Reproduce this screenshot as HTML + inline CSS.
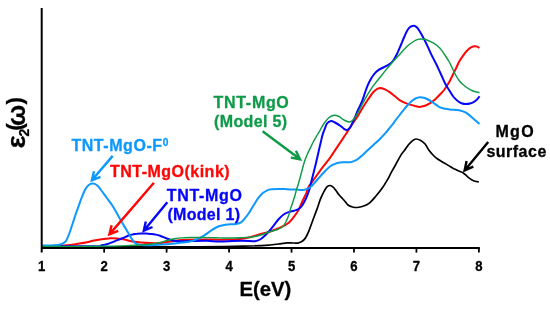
<!DOCTYPE html>
<html lang="en"><head><meta charset="utf-8"><title>Imaginary dielectric function</title>
<style>html,body{margin:0;padding:0;background:#fff}body{width:550px;height:309px;overflow:hidden}svg{display:block;filter:blur(0.3px)}text{font-family:"Liberation Sans",Arial,Helvetica,sans-serif;font-weight:bold;stroke-width:0.3;stroke-linejoin:round;paint-order:stroke}</style></head><body>
<svg width="550" height="309" viewBox="0 0 550 309">
<rect width="550" height="309" fill="#fff"/>
<path d="M41.5 246.8C67.9 246.8 165.2 246.9 200.0 246.8C234.8 246.7 238.3 246.3 250.0 246.0C261.7 245.7 265.0 245.4 270.0 245.0C275.0 244.6 277.2 244.2 280.0 243.8C282.8 243.5 284.8 243.0 287.0 242.9C289.2 242.8 291.1 243.0 293.0 243.0C294.9 243.0 297.0 243.2 298.7 242.8C300.4 242.4 301.7 241.7 302.9 240.8C304.1 239.9 304.9 239.0 305.9 237.3C306.9 235.6 307.7 233.7 308.9 230.8C310.1 227.9 311.6 223.6 312.9 220.0C314.2 216.4 315.6 213.0 316.9 209.4C318.2 205.8 319.5 201.3 320.8 198.2C322.1 195.1 323.4 192.5 324.5 190.6C325.6 188.7 326.3 187.4 327.2 186.6C328.1 185.8 329.1 185.4 330.1 185.5C331.1 185.6 332.1 186.2 333.1 187.1C334.1 187.9 335.0 189.3 336.0 190.6C337.0 191.9 337.9 193.5 339.2 195.0C340.5 196.5 342.1 198.0 343.6 199.7C345.1 201.4 346.5 203.8 348.0 205.0C349.5 206.2 350.9 206.6 352.5 207.0C354.1 207.4 355.6 207.6 357.3 207.5C359.1 207.4 360.9 207.1 363.0 206.3C365.1 205.5 367.5 204.5 369.7 202.8C371.9 201.1 373.8 198.6 376.0 196.0C378.2 193.4 380.9 190.1 382.8 187.3C384.7 184.6 386.2 181.8 387.6 179.5C389.0 177.2 389.6 175.5 390.9 173.2C392.2 170.9 393.5 168.5 395.2 165.5C396.9 162.5 399.3 157.7 400.9 155.1C402.5 152.5 403.6 151.7 404.8 150.0C406.0 148.3 406.9 146.7 408.1 145.2C409.4 143.7 411.0 141.8 412.3 140.8C413.6 139.8 414.7 139.1 416.1 139.0C417.5 138.9 419.2 139.7 420.7 140.5C422.2 141.3 423.7 142.4 425.1 144.0C426.4 145.6 427.5 148.2 428.8 150.0C430.1 151.8 431.5 153.4 433.0 155.0C434.5 156.6 436.0 157.9 438.0 159.3C440.0 160.7 442.9 162.2 445.0 163.4C447.1 164.7 449.0 165.9 450.5 166.8C452.0 167.7 452.8 168.1 454.1 168.8C455.5 169.5 457.1 170.3 458.6 171.0C460.1 171.7 462.0 172.2 463.2 172.9C464.4 173.6 465.1 174.4 466.0 175.2C466.9 176.0 467.6 176.9 468.6 177.7C469.6 178.5 470.9 179.4 472.0 180.0C473.1 180.6 473.9 181.0 475.0 181.3C476.1 181.6 478.2 181.9 478.8 182.0" fill="none" stroke="#000000" stroke-width="1.70" stroke-linecap="butt" stroke-linejoin="round"/>
<path d="M41.5 246.0C44.2 246.0 53.0 246.0 57.8 245.8C62.5 245.6 66.4 245.3 70.0 244.9C73.6 244.5 76.8 244.1 79.6 243.6C82.4 243.1 84.6 242.7 87.0 242.2C89.4 241.7 92.0 241.0 94.2 240.6C96.4 240.2 98.2 239.8 100.0 239.5C101.8 239.2 103.5 239.0 105.0 238.8C106.5 238.6 107.8 238.5 109.0 238.4C110.2 238.3 111.0 238.2 112.3 238.2C113.6 238.2 115.2 238.3 117.0 238.5C118.8 238.7 120.7 238.8 123.2 239.3C125.8 239.8 129.3 241.0 132.3 241.5C135.3 242.0 138.4 242.2 141.4 242.5C144.4 242.8 147.4 243.0 150.5 243.1C153.6 243.2 157.2 243.2 160.0 243.0C162.8 242.8 164.6 242.3 167.0 242.0C169.4 241.7 172.0 241.2 174.5 240.9C177.0 240.6 179.6 240.3 182.0 240.1C184.4 239.9 185.5 239.8 189.0 239.7C192.5 239.6 198.2 239.5 203.0 239.5C207.8 239.5 213.5 239.7 218.0 239.7C222.5 239.7 226.3 239.6 230.0 239.5C233.7 239.4 236.7 239.4 240.0 239.0C243.3 238.6 246.7 238.0 250.0 237.2C253.3 236.4 256.8 235.1 260.0 234.2C263.2 233.3 266.1 232.8 269.4 231.7C272.7 230.6 276.8 229.2 280.0 227.7C283.2 226.2 286.5 224.5 288.8 222.7C291.1 220.9 292.4 218.8 294.0 216.7C295.6 214.6 297.0 212.9 298.5 210.1C300.0 207.3 301.7 202.8 303.0 200.0C304.3 197.2 305.5 195.0 306.3 193.0C307.1 191.0 306.6 190.5 308.0 188.0C309.4 185.5 312.9 180.9 314.9 178.0C316.9 175.1 318.3 173.1 320.0 170.8C321.7 168.5 323.3 166.5 325.0 164.3C326.7 162.1 328.3 160.1 330.0 157.8C331.7 155.5 333.3 152.9 335.0 150.4C336.7 147.9 338.5 145.2 340.0 142.9C341.5 140.7 342.8 138.8 344.0 136.9C345.2 135.0 346.2 133.7 347.5 131.6C348.8 129.5 350.2 127.2 352.0 124.5C353.8 121.8 356.2 118.6 358.0 115.7C359.8 112.8 361.3 110.0 363.0 107.3C364.7 104.6 366.3 102.0 368.0 99.5C369.7 97.0 371.5 94.2 373.0 92.5C374.5 90.8 375.7 89.8 377.0 89.0C378.3 88.2 379.3 87.9 380.6 87.9C381.9 88.0 383.4 88.5 385.0 89.3C386.6 90.0 388.3 91.2 390.0 92.4C391.7 93.6 393.3 95.0 395.0 96.3C396.7 97.6 398.3 99.2 400.0 100.3C401.7 101.4 403.3 102.1 405.0 102.8C406.7 103.5 408.3 104.1 410.0 104.6C411.7 105.1 413.4 105.6 415.0 106.0C416.6 106.4 417.8 106.9 419.5 106.9C421.2 106.9 423.2 106.4 425.0 105.8C426.8 105.2 428.5 104.2 430.2 103.2C431.9 102.2 433.3 101.0 435.0 99.5C436.7 98.0 438.7 95.9 440.2 94.3C441.7 92.7 442.6 92.0 444.1 90.0C445.6 88.0 447.9 84.4 449.1 82.3C450.3 80.2 450.7 79.2 451.5 77.5C452.3 75.8 453.2 74.2 454.1 72.3C455.0 70.4 456.1 68.1 457.0 66.2C457.9 64.3 458.3 63.0 459.5 61.0C460.7 59.0 462.6 56.2 464.0 54.3C465.4 52.4 466.9 50.7 468.2 49.5C469.4 48.3 470.4 47.6 471.5 47.1C472.6 46.6 473.8 46.3 474.7 46.2C475.6 46.1 476.2 46.3 477.0 46.6C477.8 46.9 479.1 47.7 479.5 47.9" fill="none" stroke="#ff0606" stroke-width="2.00" stroke-linecap="butt" stroke-linejoin="round"/>
<path d="M41.5 246.3C50.6 246.3 86.0 246.4 96.0 246.2C106.0 246.0 100.0 245.6 101.5 245.3C103.0 245.0 103.8 244.9 105.0 244.6C106.2 244.3 107.5 244.0 108.7 243.6C109.9 243.2 110.8 242.9 112.0 242.4C113.2 241.9 114.8 241.2 116.0 240.7C117.2 240.2 117.8 240.0 119.0 239.5C120.2 239.0 121.7 238.5 123.2 237.9C124.7 237.3 126.5 236.4 128.0 235.8C129.5 235.2 130.8 234.8 132.3 234.4C133.8 234.1 135.5 233.8 137.0 233.7C138.5 233.5 139.9 233.5 141.4 233.5C142.9 233.5 144.5 233.5 146.0 233.6C147.5 233.7 149.0 233.8 150.5 233.9C152.0 234.1 153.4 234.2 155.0 234.5C156.6 234.8 158.0 235.0 160.0 235.7C162.0 236.4 164.8 237.7 166.8 238.5C168.8 239.3 170.5 239.9 172.0 240.3C173.5 240.7 174.3 240.8 176.0 241.0C177.7 241.2 178.8 241.3 182.0 241.3C185.2 241.3 190.8 241.0 195.0 240.9C199.2 240.8 202.8 240.7 207.0 240.8C211.2 240.9 215.8 241.6 220.0 241.6C224.2 241.6 228.3 241.2 232.0 241.0C235.7 240.8 239.0 240.7 242.0 240.7C245.0 240.7 247.8 240.8 250.0 240.9C252.2 241.0 253.3 241.5 255.0 241.3C256.7 241.1 258.3 240.5 260.0 239.5C261.7 238.5 263.4 236.9 265.0 235.5C266.6 234.1 267.9 232.5 269.4 230.8C270.9 229.1 272.4 227.2 274.0 225.2C275.6 223.2 277.3 220.5 279.0 218.7C280.7 216.9 282.4 215.3 284.0 214.2C285.6 213.1 287.1 212.7 288.8 212.1C290.5 211.5 292.4 211.2 294.0 210.7C295.6 210.2 297.2 209.9 298.5 209.1C299.8 208.3 300.7 207.6 302.0 205.7C303.3 203.8 305.1 200.4 306.3 197.8C307.5 195.2 308.6 191.9 309.2 190.0C309.8 188.1 309.6 188.8 310.2 186.3C310.8 183.8 312.0 178.9 313.0 175.0C314.0 171.1 315.1 166.8 316.0 163.0C316.9 159.2 317.7 155.6 318.5 152.0C319.3 148.4 320.2 144.5 320.9 141.7C321.6 138.9 321.9 136.9 322.5 135.0C323.1 133.1 323.6 131.9 324.3 130.0C325.1 128.1 325.9 125.0 327.0 123.5C328.1 122.0 329.7 121.1 331.0 120.9C332.3 120.7 333.3 121.6 335.0 122.5C336.7 123.4 339.5 125.2 341.0 126.3C342.5 127.3 343.1 128.2 344.0 128.8C344.9 129.4 345.9 130.0 346.7 130.0C347.5 130.0 348.3 129.5 349.0 128.8C349.7 128.1 350.1 127.7 351.0 126.0C351.9 124.3 353.2 121.2 354.4 118.5C355.6 115.8 356.7 112.8 358.0 110.0C359.3 107.2 360.8 104.4 362.0 101.5C363.2 98.6 364.0 95.5 365.0 92.7C366.0 89.9 367.0 87.0 368.0 84.7C369.0 82.4 369.9 80.6 371.0 78.7C372.1 76.8 373.6 74.8 374.8 73.4C376.0 72.0 376.8 71.3 378.0 70.4C379.2 69.5 380.9 68.6 382.1 68.0C383.3 67.4 384.0 67.1 385.0 66.6C386.0 66.1 386.9 65.7 387.9 65.1C388.9 64.5 390.0 63.9 391.0 63.0C392.0 62.1 392.7 61.5 393.7 60.0C394.7 58.5 395.6 56.7 396.8 54.3C398.0 51.9 399.5 48.3 400.7 45.5C401.9 42.7 402.9 39.9 404.0 37.5C405.1 35.1 406.1 32.6 407.0 31.0C407.9 29.4 408.4 28.7 409.1 27.9C409.9 27.1 410.7 26.5 411.5 26.2C412.3 25.9 413.2 25.6 414.1 25.8C415.0 26.0 416.1 26.6 417.0 27.5C417.9 28.4 418.4 29.1 419.5 30.9C420.6 32.7 422.2 35.4 423.6 38.2C425.1 41.0 427.0 45.0 428.2 47.6C429.4 50.2 429.6 50.8 431.0 53.8C432.4 56.8 435.0 61.5 436.8 65.3C438.6 69.1 440.7 73.7 442.0 76.5C443.3 79.3 443.4 80.2 444.5 82.3C445.6 84.4 447.2 86.8 448.6 89.2C450.1 91.6 451.7 94.5 453.2 96.5C454.7 98.5 456.3 99.9 457.7 101.0C459.1 102.1 460.1 102.7 461.5 103.2C462.9 103.7 464.5 104.0 465.9 104.0C467.3 104.0 468.6 103.9 470.0 103.5C471.4 103.1 472.8 102.5 474.0 101.8C475.2 101.1 476.1 100.4 477.0 99.5C477.9 98.6 479.1 96.8 479.5 96.2" fill="none" stroke="#0505fa" stroke-width="2.00" stroke-linecap="butt" stroke-linejoin="round"/>
<path d="M41.5 245.4C43.2 245.4 49.2 245.5 52.0 245.4C54.8 245.3 56.3 245.3 58.0 245.0C59.7 244.7 60.7 244.5 62.0 243.8C63.3 243.1 64.8 242.8 66.0 241.0C67.2 239.2 68.4 235.8 69.5 233.0C70.6 230.2 71.5 227.0 72.5 224.0C73.5 221.0 74.5 217.8 75.5 214.8C76.5 211.9 77.5 209.0 78.5 206.3C79.5 203.6 80.2 201.4 81.3 198.7C82.4 196.0 83.8 192.2 85.0 190.0C86.2 187.8 87.2 186.4 88.5 185.3C89.8 184.2 91.3 183.6 92.7 183.6C94.1 183.6 95.6 184.2 97.0 185.3C98.4 186.4 99.4 188.0 101.0 190.0C102.6 192.0 104.5 194.8 106.5 197.5C108.5 200.2 110.7 202.9 112.7 206.0C114.7 209.1 117.0 213.5 118.5 216.2C120.0 218.9 120.3 219.4 121.8 222.0C123.3 224.6 126.1 229.3 127.7 232.0C129.3 234.7 130.2 236.6 131.4 238.4C132.6 240.2 133.8 241.9 135.0 242.9C136.2 243.9 137.4 244.2 138.6 244.5C139.8 244.8 140.4 244.9 142.0 245.0C143.6 245.1 145.8 245.2 148.0 245.2C150.2 245.2 152.0 245.2 155.0 245.0C158.0 244.8 162.7 244.6 166.0 244.3C169.3 244.0 171.8 243.8 175.0 243.4C178.2 243.1 182.5 242.5 185.0 242.2C187.5 241.9 188.2 241.8 190.0 241.4C191.8 241.0 193.7 240.5 196.0 239.6C198.3 238.7 201.1 237.3 203.6 235.8C206.1 234.3 208.6 232.2 211.0 230.7C213.4 229.1 215.8 227.5 218.2 226.5C220.6 225.5 223.2 225.2 225.5 224.8C227.8 224.4 230.2 224.4 232.0 224.3C233.8 224.2 234.5 224.3 236.0 224.0C237.5 223.7 239.5 223.3 241.0 222.3C242.5 221.3 243.7 219.8 245.0 218.2C246.3 216.6 247.7 214.8 249.1 212.7C250.5 210.6 252.0 207.9 253.5 205.5C255.0 203.1 256.7 200.2 258.2 198.2C259.7 196.2 261.0 194.6 262.5 193.3C264.0 192.0 265.7 191.0 267.3 190.3C268.9 189.6 270.2 189.5 272.0 189.3C273.8 189.1 276.0 188.9 278.0 188.9C280.0 188.9 282.0 189.0 284.0 189.1C286.0 189.2 288.0 189.3 290.0 189.4C292.0 189.5 294.1 189.5 296.0 189.6C297.9 189.7 300.0 190.1 301.5 190.1C303.0 190.1 303.9 189.9 305.0 189.6C306.1 189.3 307.0 188.9 308.0 188.4C309.0 187.9 309.3 188.2 311.0 186.6C312.7 185.0 315.8 181.4 318.0 179.0C320.2 176.6 322.0 174.4 324.0 172.3C326.0 170.2 328.2 167.9 330.0 166.5C331.8 165.1 333.3 164.5 335.0 163.8C336.7 163.1 338.3 162.7 340.0 162.4C341.7 162.2 343.3 162.3 345.0 162.3C346.7 162.3 348.7 162.5 350.4 162.2C352.1 161.9 353.5 161.4 355.0 160.7C356.5 160.0 357.4 159.4 359.2 157.9C361.0 156.4 363.6 154.0 366.0 151.8C368.4 149.6 371.4 146.8 373.7 144.7C376.0 142.6 377.8 141.1 379.7 139.2C381.6 137.3 383.8 135.0 385.4 133.2C387.0 131.4 388.0 129.9 389.2 128.5C390.4 127.0 391.5 125.8 392.5 124.5C393.5 123.2 393.8 122.7 395.0 121.0C396.2 119.3 398.6 116.4 400.0 114.5C401.4 112.6 402.4 111.3 403.7 109.8C404.9 108.3 406.3 106.6 407.5 105.3C408.7 104.0 409.7 102.8 411.0 101.7C412.3 100.6 414.0 99.2 415.5 98.5C417.0 97.8 418.4 97.3 419.8 97.2C421.2 97.1 422.6 97.4 424.0 97.8C425.4 98.2 426.5 98.7 428.0 99.5C429.5 100.3 431.4 101.5 432.9 102.5C434.4 103.5 435.8 104.6 437.0 105.4C438.2 106.2 438.7 106.9 440.0 107.4C441.3 108.0 443.3 108.4 445.0 108.7C446.7 109.0 447.5 109.1 450.0 109.4C452.5 109.7 457.5 109.9 460.0 110.4C462.5 110.9 463.6 111.5 465.0 112.2C466.4 112.9 466.9 113.2 468.4 114.4C469.9 115.6 472.1 117.6 474.0 119.2C475.9 120.8 478.6 123.2 479.5 124.0" fill="none" stroke="#0c98fc" stroke-width="2.00" stroke-linecap="butt" stroke-linejoin="round"/>
<path d="M41.5 246.5C51.2 246.5 85.2 246.5 100.0 246.3C114.8 246.1 121.7 245.8 130.0 245.5C138.3 245.2 145.0 244.8 150.0 244.3C155.0 243.8 157.2 243.1 160.0 242.5C162.8 241.9 164.6 241.1 167.0 240.5C169.4 239.9 172.0 239.2 174.5 238.8C177.0 238.4 179.4 238.1 182.0 237.9C184.6 237.7 187.0 237.6 190.0 237.5C193.0 237.4 196.7 237.4 200.0 237.4C203.3 237.4 206.7 237.5 210.0 237.6C213.3 237.7 216.7 237.8 220.0 237.9C223.3 238.0 226.7 237.9 230.0 237.9C233.3 237.9 236.7 237.8 240.0 237.7C243.3 237.6 246.7 237.6 250.0 237.2C253.3 236.8 256.8 236.1 260.0 235.2C263.2 234.3 266.6 232.9 269.4 232.0C272.2 231.1 274.7 230.6 277.0 229.7C279.3 228.8 281.5 227.9 283.0 226.5C284.5 225.1 285.0 223.4 286.0 221.5C287.0 219.6 288.1 217.1 288.8 215.0C289.6 212.9 289.8 211.2 290.5 209.0C291.2 206.8 292.3 203.9 293.0 201.7C293.7 199.5 294.2 198.0 294.8 196.0C295.4 194.0 295.9 191.6 296.5 189.6C297.1 187.6 297.7 185.9 298.3 184.0C298.9 182.1 299.4 180.2 300.0 178.0C300.6 175.8 301.3 173.1 302.0 170.5C302.7 167.9 303.4 165.1 304.2 162.5C305.0 159.9 306.0 157.3 307.0 155.0C308.0 152.7 308.9 150.8 310.0 148.6C311.1 146.3 312.3 143.8 313.5 141.5C314.7 139.2 316.1 137.0 317.3 135.0C318.5 133.0 319.4 131.4 320.5 129.5C321.6 127.6 322.6 125.5 324.0 123.5C325.4 121.5 327.3 118.9 329.0 117.5C330.7 116.1 332.3 115.4 334.0 115.2C335.7 115.0 337.3 115.7 339.0 116.5C340.7 117.3 342.2 119.1 344.0 120.0C345.8 120.9 347.8 122.2 349.5 122.0C351.2 121.8 352.6 120.5 354.0 119.0C355.4 117.5 356.5 115.4 358.0 112.7C359.5 110.0 361.3 106.1 363.0 103.0C364.7 99.9 366.3 96.7 368.0 93.9C369.7 91.1 371.4 88.4 373.0 86.1C374.6 83.8 375.6 82.9 377.7 80.3C379.8 77.7 383.0 73.5 385.4 70.6C387.8 67.7 389.9 65.2 391.8 63.0C393.7 60.8 395.2 59.3 397.0 57.3C398.8 55.3 400.9 53.0 402.7 51.0C404.5 49.0 406.2 47.1 408.0 45.5C409.8 43.9 411.9 42.5 413.6 41.5C415.3 40.5 416.8 39.8 418.0 39.4C419.2 39.0 419.7 38.9 420.9 38.9C422.1 38.9 423.5 38.9 425.0 39.3C426.5 39.7 428.2 40.6 430.0 41.4C431.8 42.2 433.8 43.1 435.5 44.3C437.2 45.4 438.8 47.0 440.0 48.3C441.2 49.6 442.1 51.0 443.0 52.3C443.9 53.6 444.5 54.5 445.5 56.0C446.5 57.5 448.0 59.8 449.0 61.5C450.0 63.2 450.6 64.8 451.5 66.5C452.4 68.2 453.3 70.3 454.1 72.0C454.9 73.7 455.7 75.1 456.5 76.5C457.3 77.9 458.1 79.1 459.0 80.3C459.9 81.5 460.8 82.7 462.0 83.8C463.2 84.9 464.6 86.0 466.0 87.0C467.4 88.0 469.1 89.0 470.5 89.8C471.9 90.5 473.4 91.1 474.5 91.5C475.6 91.9 476.2 91.9 477.0 92.1C477.8 92.2 479.1 92.4 479.5 92.4" fill="none" stroke="#0f9a48" stroke-width="1.45" stroke-linecap="butt" stroke-linejoin="round"/>
<path d="M41.70 8.00 V252.60 M40.70 248.00 H479.80" fill="none" stroke="#000" stroke-width="2.00"/>
<path d="M104.16 248.00 V252.60" stroke="#000" stroke-width="1.80"/>
<path d="M166.61 248.00 V252.60" stroke="#000" stroke-width="1.80"/>
<path d="M229.07 248.00 V252.60" stroke="#000" stroke-width="1.80"/>
<path d="M291.53 248.00 V252.60" stroke="#000" stroke-width="1.80"/>
<path d="M353.99 248.00 V252.60" stroke="#000" stroke-width="1.80"/>
<path d="M416.44 248.00 V252.60" stroke="#000" stroke-width="1.80"/>
<path d="M478.90 248.00 V252.60" stroke="#000" stroke-width="1.80"/>
<text x="41.70" y="270.60" font-size="14.00" text-anchor="middle" fill="#000" stroke="#000" textLength="7.30" lengthAdjust="spacingAndGlyphs">1</text>
<text x="104.16" y="270.60" font-size="14.00" text-anchor="middle" fill="#000" stroke="#000" textLength="7.30" lengthAdjust="spacingAndGlyphs">2</text>
<text x="166.61" y="270.60" font-size="14.00" text-anchor="middle" fill="#000" stroke="#000" textLength="7.30" lengthAdjust="spacingAndGlyphs">3</text>
<text x="229.07" y="270.60" font-size="14.00" text-anchor="middle" fill="#000" stroke="#000" textLength="7.30" lengthAdjust="spacingAndGlyphs">4</text>
<text x="291.53" y="270.60" font-size="14.00" text-anchor="middle" fill="#000" stroke="#000" textLength="7.30" lengthAdjust="spacingAndGlyphs">5</text>
<text x="353.99" y="270.60" font-size="14.00" text-anchor="middle" fill="#000" stroke="#000" textLength="7.30" lengthAdjust="spacingAndGlyphs">6</text>
<text x="416.44" y="270.60" font-size="14.00" text-anchor="middle" fill="#000" stroke="#000" textLength="7.30" lengthAdjust="spacingAndGlyphs">7</text>
<text x="478.90" y="270.60" font-size="14.00" text-anchor="middle" fill="#000" stroke="#000" textLength="7.30" lengthAdjust="spacingAndGlyphs">8</text>
<text x="265.40" y="296.30" font-size="20.30" text-anchor="middle" fill="#000" stroke="#000">E(eV)</text>
<text transform="translate(24.80 147.00) rotate(-90)" fill="#000" stroke="#000" style="font-family:'Liberation Sans',sans-serif"><tspan x="-1.20" y="0.00" font-size="25.00" textLength="12.80" lengthAdjust="spacingAndGlyphs">ε</tspan><tspan x="10.40" y="4.20" font-size="14.60" textLength="7.80" lengthAdjust="spacingAndGlyphs">2</tspan><tspan x="16.20" y="-2.50" font-size="22.50">(</tspan><tspan x="20.90" y="0.00" font-size="25.00" textLength="21.20" lengthAdjust="spacingAndGlyphs">ω</tspan><tspan x="42.60" y="-2.50" font-size="22.50">)</tspan></text>
<text x="71.40" y="150.50" font-size="16.00" fill="#0c98fc" stroke="#0c98fc" textLength="97.00" lengthAdjust="spacing">TNT-MgO-F<tspan font-size="10.24" dy="-4.80">0</tspan></text>
<text x="110.00" y="177.20" font-size="16.00" fill="#ff0606" stroke="#ff0606" textLength="119.60" lengthAdjust="spacing">TNT-MgO(kink)</text>
<text x="166.80" y="200.80" font-size="16.00" fill="#0505fa" stroke="#0505fa" textLength="75.20" lengthAdjust="spacing">TNT-MgO</text>
<text x="167.40" y="219.90" font-size="16.00" fill="#0505fa" stroke="#0505fa" textLength="72.60" lengthAdjust="spacing">(Model 1)</text>
<text x="213.60" y="107.60" font-size="16.00" fill="#0f9a48" stroke="#0f9a48" textLength="75.20" lengthAdjust="spacing">TNT-MgO</text>
<text x="214.10" y="126.80" font-size="16.00" fill="#0f9a48" stroke="#0f9a48" textLength="73.00" lengthAdjust="spacing">(Model 5)</text>
<text x="495.40" y="137.20" font-size="16.00" fill="#000000" stroke="#000000" textLength="38.20" lengthAdjust="spacing">MgO</text>
<text x="486.40" y="157.40" font-size="16.00" fill="#000000" stroke="#000000" textLength="59.90" lengthAdjust="spacing">surface</text>
<path d="M112.7 155.9 L91.9 180.3 M100.5 176.8 L91.9 180.3 L94.0 171.3" fill="none" stroke="#0c98fc" stroke-width="2.40" stroke-linecap="butt" stroke-linejoin="miter"/>
<path d="M153.9 182.7 L109.4 234.4 M118.2 230.9 L109.4 234.4 L111.6 225.2" fill="none" stroke="#ff0606" stroke-width="2.40" stroke-linecap="butt" stroke-linejoin="miter"/>
<path d="M167.3 202.3 L143.8 230.7 M152.5 227.0 L143.8 230.7 L145.8 221.4" fill="none" stroke="#0505fa" stroke-width="2.40" stroke-linecap="butt" stroke-linejoin="miter"/>
<path d="M262.6 131.3 L300.1 159.3 M295.9 150.8 L300.1 159.3 L290.8 157.6" fill="none" stroke="#0f9a48" stroke-width="2.40" stroke-linecap="butt" stroke-linejoin="miter"/>
<path d="M488.2 142.1 L464.6 170.4 M473.3 166.7 L464.6 170.4 L466.6 161.1" fill="none" stroke="#000000" stroke-width="2.40" stroke-linecap="butt" stroke-linejoin="miter"/>
</svg></body></html>
